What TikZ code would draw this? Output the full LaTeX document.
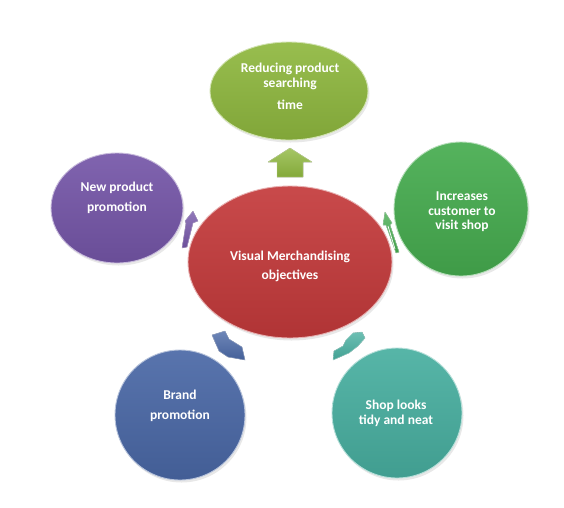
\documentclass[tikz,border=0pt]{standalone}
\usepackage{fontspec}
\setmainfont{Carlito}
\usetikzlibrary{shapes.geometric,shadows}
\definecolor{cRed}{HTML}{C43A3B}
\definecolor{cLime}{HTML}{8FB83F}
\definecolor{cPurple}{HTML}{7556A8}
\definecolor{cGreen}{HTML}{46AC4F}
\definecolor{cBlue}{HTML}{4A68A6}
\definecolor{cTeal}{HTML}{48AFA0}
\begin{document}
\begin{tikzpicture}[x=1pt,y=-1pt,
  blob/.style={ellipse, inner sep=0pt, draw=#1!40!white, line width=0.9pt,
    top color=#1!92!white, bottom color=#1!90!black,
    drop shadow={opacity=0.18, shadow xshift=1.5pt, shadow yshift=-2.5pt}},
  txt/.style={text=white, align=center, inner sep=0pt, font=\bfseries\fontsize{13.5}{#1}\selectfont},
  blockarrow/.style={top color=#1!80!white, bottom color=#1!92!black, draw=#1!50!white, line width=0.4pt, line join=round}
]
\useasboundingbox (0,0) rectangle (564,507);

% shapes
\node[blob=cRed, minimum width=204pt, minimum height=152pt] (center) at (290,262) {};
\node[blob=cLime, minimum width=158pt, minimum height=98pt] (top) at (289,91) {};
\node[blob=cPurple, minimum width=132pt, minimum height=110pt] (purple) at (117,208) {};
\node[blob=cGreen, circle, minimum size=134pt] (green) at (461,209) {};
\node[blob=cBlue, circle, minimum size=130pt] (blue) at (180,415) {};
\node[blob=cTeal, circle, minimum size=130pt] (teal) at (397,413) {};

% texts
\node[txt=19] (centertext) at (290,266) {Visual Merchandising\\objectives};
\node[txt=15] (toptext) at (290,86) {Reducing product\\searching\\[7pt]time};
\node[txt=20] (purpletext) at (117,198) {New product\\promotion};
\node[txt=14.5] (greentext) at (462,212) {Increases\\customer to\\visit shop};
\node[txt=19.5] (bluetext) at (180,406) {Brand\\promotion};
\node[txt=15] (tealtext) at (396,413) {Shop looks\\tidy and neat};

% block arrows
\fill[blockarrow=cLime] (290,148) -- (312,162) -- (303,162) -- (303,177) -- (277,177) -- (277,162) -- (268,162) -- cycle;
\fill[blockarrow=cPurple] (193,211) -- (198,221) -- (193,223) -- (187,247) -- (182,248) -- (186,223) -- (185,221) -- cycle;
\fill[blockarrow=cGreen] (385,212) -- (392,223) -- (390,225) -- (399,252) -- (396,253) -- (386,225) -- (383,225) -- cycle;
\draw[white, line width=0.7pt] (388,226) -- (395,249);
\fill[blockarrow=cBlue] (212,335) -- (225,331) -- (229,339) -- (242,347) -- (245,360) -- (228,357) -- (219,351) -- cycle;
\fill[blockarrow=cTeal] (346,340) -- (353,333) -- (362,332) -- (365,338) -- (358,346) -- (349,353) -- (333,360) -- (334,351) -- (343,346) -- cycle;
\end{tikzpicture}
\end{document}
